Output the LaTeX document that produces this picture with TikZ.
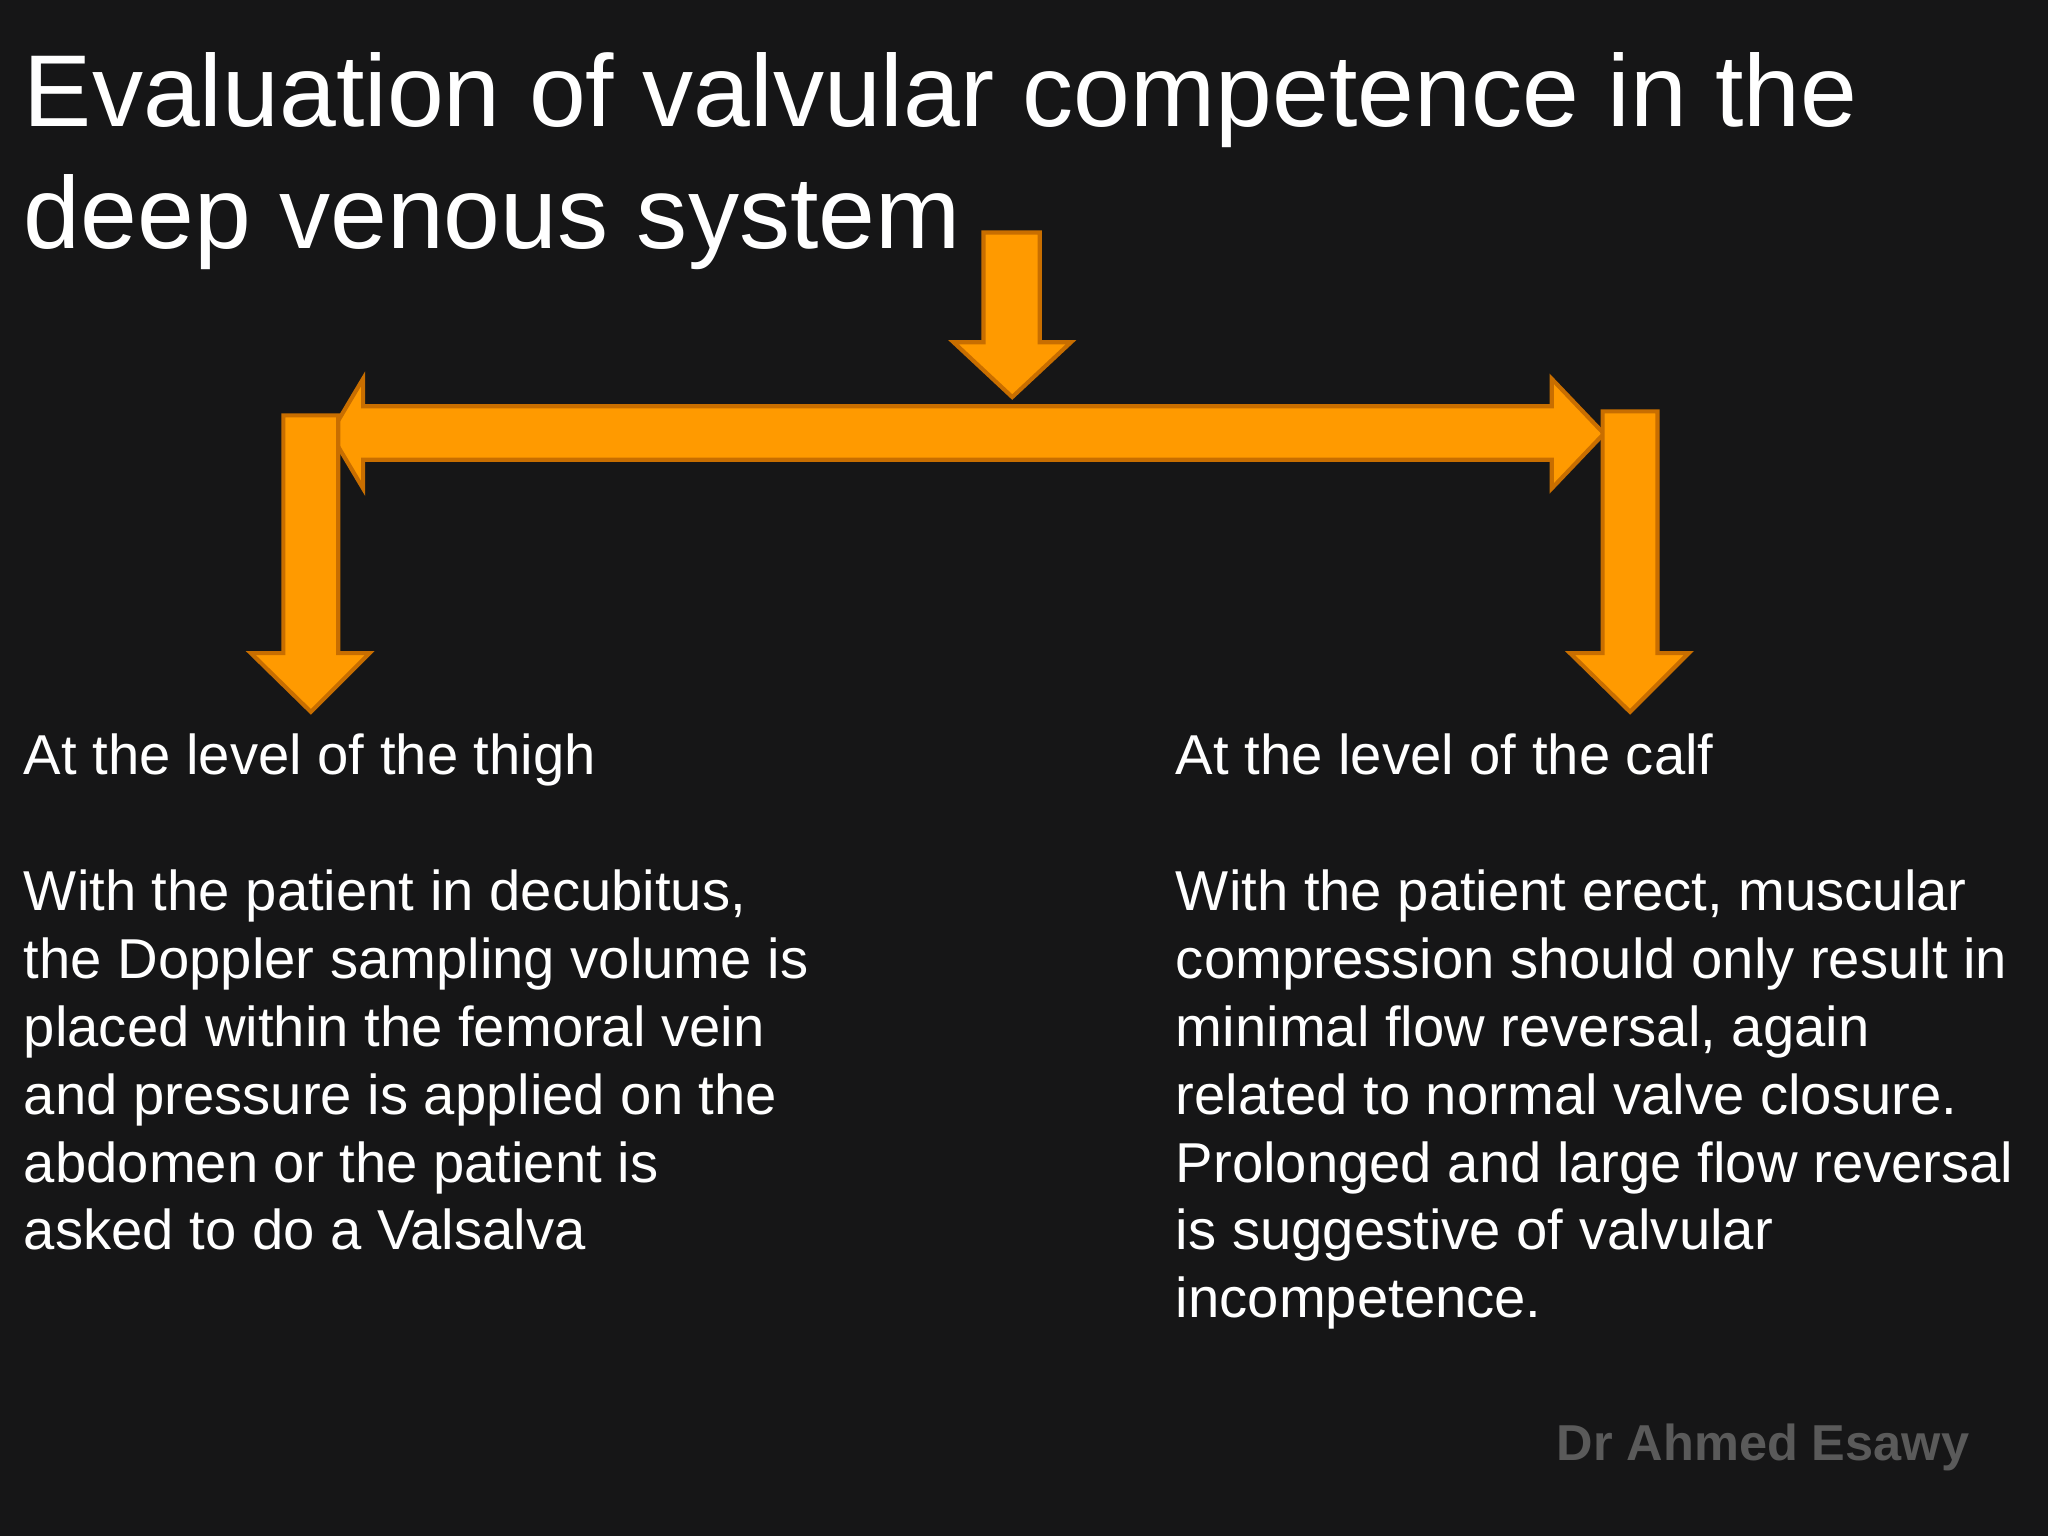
\documentclass[tikz,border=0pt]{standalone}
\usepackage{fontspec}
\setmainfont{Liberation Sans}
\definecolor{bg}{HTML}{161617}
\definecolor{org}{HTML}{FF9A00}
\definecolor{orgd}{HTML}{C86E00}
\definecolor{wm}{HTML}{5A5A5A}
\begin{document}
\begin{tikzpicture}[x=0.02cm,y=-0.02cm,
  arr/.style={fill=org,draw=orgd,line width=1.8pt,line join=miter},
  ttl/.style={anchor=base west,text=white,font=\fontsize{44.5}{50}\selectfont,inner sep=0},
  bod/.style={anchor=base west,text=white,font=\fontsize{24.5}{28}\selectfont,inner sep=0}]
\fill[bg] (0,0) rectangle (1568,1176);
\useasboundingbox (0,0) rectangle (1568,1176);
% arrows
\draw[arr] (753,178)--(796,178)--(796,262)--(820,262)--(775,304)--(730,262)--(753,262)--cycle;
\draw[arr] (253,332)--(278,290)--(278,311)--(1188,311)--(1188,290)--(1228,332)--(1188,374)--(1188,352)--(278,352)--(278,374)--cycle;
\draw[arr] (217,318)--(259,318)--(259,500)--(283,500)--(238,545)--(192,500)--(217,500)--cycle;
\draw[arr] (1227,315)--(1269,315)--(1269,500)--(1293,500)--(1248,545)--(1202,500)--(1227,500)--cycle;
% title
\node[ttl] (t1) at (18,97) {Evaluation of valvular competence in the};
\node[ttl] (t2) at (18,190) {deep venous system};
% left
\node[bod] (lh) at (18,593) {At the level of the thigh};
\foreach \t [count=\i] in {{With the patient in decubitus,},{the Doppler sampling volume is},{placed within the femoral vein},{and pressure is applied on the},{abdomen or the patient is},{asked to do a Valsalva}}
  \node[bod] (l\i) at (18,{697+52*(\i-1)}) {\t};
% right
\node[bod] (rh) at (900,593) {At the level of the calf};
\foreach \t [count=\i] in {{With the patient erect, muscular},{compression should only result in},{minimal flow reversal, again},{related to normal valve closure.},{Prolonged and large flow reversal},{is suggestive of valvular},{incompetence.}}
  \node[bod] (r\i) at (900,{697+52*(\i-1)}) {\t};
\node[anchor=base east,text=wm,font=\bfseries\fontsize{22}{26}\selectfont,inner sep=0] (wm) at (1508,1118) {Dr Ahmed Esawy};
\end{tikzpicture}
\end{document}
